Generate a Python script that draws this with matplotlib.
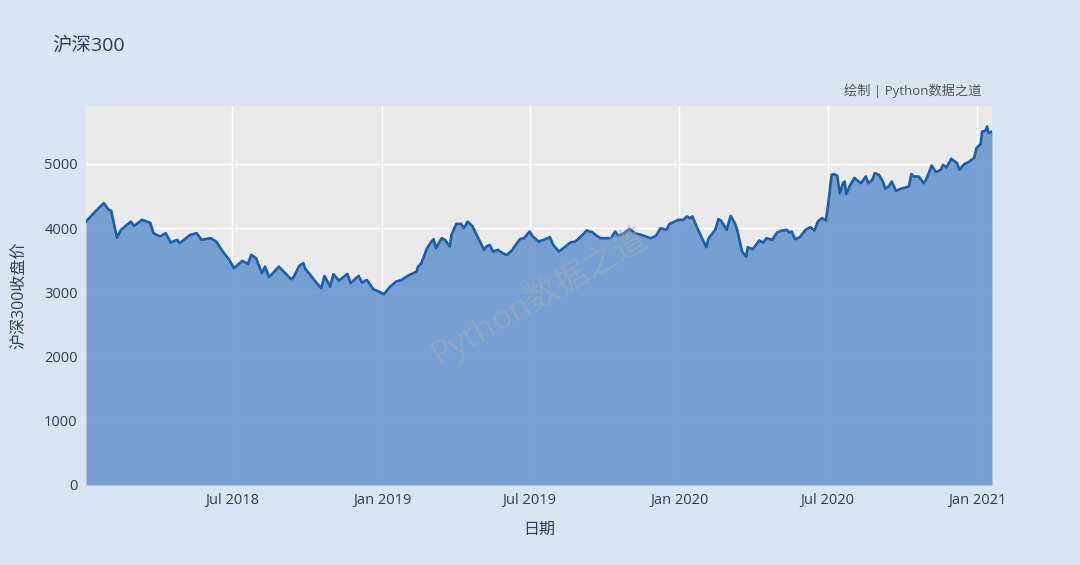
import pandas as pd
import matplotlib.pyplot as plt
import matplotlib.dates as mdates

plt.rcParams['font.family'] = ['Open Sans', 'Noto Sans CJK SC', 'DejaVu Sans']

# closing prices (roughly weekly)
dates = [
    "2018-01-02", "2018-01-12", "2018-01-18", "2018-01-24", "2018-01-30", "2018-02-02",
    "2018-02-09", "2018-02-14", "2018-02-26", "2018-03-02", "2018-03-12", "2018-03-22",
    "2018-03-26", "2018-04-03", "2018-04-10", "2018-04-16", "2018-04-24", "2018-04-27",
    "2018-05-10", "2018-05-18", "2018-05-24", "2018-06-04", "2018-06-11", "2018-06-19",
    "2018-06-27", "2018-07-03", "2018-07-13", "2018-07-20", "2018-07-24", "2018-07-30",
    "2018-08-06", "2018-08-10", "2018-08-15", "2018-08-27", "2018-09-03", "2018-09-11",
    "2018-09-14", "2018-09-21", "2018-09-26", "2018-09-28", "2018-10-11", "2018-10-18",
    "2018-10-22", "2018-10-29", "2018-11-02", "2018-11-09", "2018-11-19", "2018-11-23",
    "2018-12-03", "2018-12-07", "2018-12-13", "2018-12-21", "2018-12-28", "2019-01-03",
    "2019-01-10", "2019-01-18", "2019-01-25", "2019-02-01", "2019-02-12", "2019-02-14",
    "2019-02-18", "2019-02-25", "2019-03-01", "2019-03-05", "2019-03-08", "2019-03-15",
    "2019-03-19", "2019-03-25", "2019-03-27", "2019-04-02", "2019-04-08", "2019-04-11",
    "2019-04-16", "2019-04-22", "2019-04-29", "2019-05-06", "2019-05-09", "2019-05-13",
    "2019-05-17", "2019-05-23", "2019-05-29", "2019-06-03", "2019-06-10", "2019-06-11",
    "2019-06-19", "2019-06-24", "2019-07-01", "2019-07-05", "2019-07-12", "2019-07-18",
    "2019-07-26", "2019-07-30", "2019-08-06", "2019-08-14", "2019-08-20", "2019-08-26",
    "2019-09-02", "2019-09-09", "2019-09-16", "2019-09-20", "2019-09-26", "2019-10-09",
    "2019-10-14", "2019-10-18", "2019-10-25", "2019-11-01", "2019-11-07", "2019-11-15",
    "2019-11-21", "2019-11-27", "2019-12-03", "2019-12-09", "2019-12-16", "2019-12-20",
    "2019-12-31", "2020-01-06", "2020-01-10", "2020-01-14", "2020-01-17", "2020-01-23",
    "2020-02-03", "2020-02-06", "2020-02-14", "2020-02-18", "2020-02-21", "2020-02-28",
    "2020-03-04", "2020-03-09", "2020-03-12", "2020-03-18", "2020-03-23", "2020-03-25",
    "2020-03-31", "2020-04-08", "2020-04-13", "2020-04-17", "2020-04-24", "2020-04-30",
    "2020-05-06", "2020-05-12", "2020-05-15", "2020-05-18", "2020-05-22", "2020-05-28",
    "2020-06-04", "2020-06-10", "2020-06-15", "2020-06-19", "2020-06-24", "2020-06-29",
    "2020-07-02", "2020-07-06", "2020-07-09", "2020-07-13", "2020-07-16", "2020-07-20",
    "2020-07-22", "2020-07-24", "2020-07-28", "2020-08-03", "2020-08-07", "2020-08-11",
    "2020-08-17", "2020-08-20", "2020-08-25", "2020-08-28", "2020-09-02", "2020-09-07",
    "2020-09-10", "2020-09-14", "2020-09-18", "2020-09-23", "2020-09-29", "2020-10-09",
    "2020-10-12", "2020-10-15", "2020-10-21", "2020-10-27", "2020-10-30", "2020-11-06",
    "2020-11-11", "2020-11-17", "2020-11-20", "2020-11-24", "2020-11-30", "2020-12-07",
    "2020-12-10", "2020-12-16", "2020-12-21", "2020-12-28", "2020-12-31", "2021-01-05",
    "2021-01-07", "2021-01-11", "2021-01-13", "2021-01-15", "2021-01-19",
]
closes = [
    4102, 4237, 4315, 4388, 4283, 4268,
    3852, 3972, 4100, 4034, 4128, 4081,
    3920, 3868, 3920, 3775, 3816, 3764,
    3894, 3920, 3816, 3842, 3790, 3634,
    3505, 3375, 3489, 3442, 3583, 3531,
    3297, 3400, 3235, 3400, 3307, 3204,
    3235, 3411, 3453, 3375, 3167, 3064,
    3255, 3089, 3282, 3182, 3287, 3142,
    3255, 3151, 3193, 3048, 3011, 2970,
    3080, 3167, 3193, 3255, 3322, 3400,
    3453, 3687, 3765, 3827, 3687, 3842,
    3816, 3712, 3894, 4065, 4065, 3998,
    4101, 4023, 3842, 3660, 3712, 3738,
    3634, 3660, 3608, 3582, 3660, 3686,
    3827, 3842, 3946, 3868, 3790, 3816,
    3857, 3738, 3634, 3712, 3775, 3790,
    3868, 3961, 3935, 3894, 3842, 3842,
    3946, 3878, 3920, 3988, 3920, 3894,
    3868, 3842, 3878, 3998, 3972, 4065,
    4128, 4128, 4180, 4154, 4180, 3998,
    3702, 3842, 3972, 4138, 4117, 3972,
    4190, 4076, 3972, 3634, 3556, 3702,
    3670, 3806, 3775, 3842, 3816, 3930,
    3961, 3972, 3930, 3946, 3827, 3857,
    3972, 4014, 3961, 4101, 4154, 4117,
    4388, 4829, 4840, 4813, 4543, 4699,
    4724, 4528, 4648, 4782, 4735, 4699,
    4802, 4699, 4751, 4855, 4829, 4724,
    4611, 4648, 4724, 4579, 4611, 4648,
    4840, 4802, 4802, 4699, 4751, 4974,
    4870, 4907, 4984, 4943, 5078, 5011,
    4907, 4995, 5026, 5089, 5245, 5307,
    5503, 5514, 5581, 5477, 5503,
]
y_ticks = [0, 1000, 2000, 3000, 4000, 5000]
x_ticks = ["2018-07-01", "2019-01-01", "2019-07-01", "2020-01-01", "2020-07-01", "2021-01-01"]

df = pd.DataFrame({"date": pd.to_datetime(dates), "close": closes})

bg = "#d9e5f3"
text_col = "#2a3f5f"

fig = plt.figure(figsize=(10.8, 5.65), dpi=100, facecolor=bg)
ax = fig.add_axes([0.0796, 0.1416, 0.8389, 0.6708])
ax.set_facecolor("#eaeaea")

# area + line
ax.fill_between(df["date"], df["close"], 0, color=(105/255, 152/255, 205/255), alpha=0.9,
                linewidth=0, zorder=2)
ax.plot(df["date"], df["close"], color="#1a5fae", lw=1.9, zorder=3)

ax.set_xlim(df["date"].iloc[0], df["date"].iloc[-1])
ax.set_ylim(0, 5900)
ax.set_yticks(y_ticks)
ax.set_xticks(pd.to_datetime(x_ticks))
ax.xaxis.set_major_formatter(mdates.DateFormatter("%b %Y"))
ax.grid(True, color="white", lw=1, zorder=1)
ax.set_axisbelow(True)
for s in ax.spines.values():
    s.set_visible(False)
ax.tick_params(length=0, labelsize=10.5, colors=text_col, pad=6)

ax.set_xlabel("日期", fontsize=11.5, color=text_col, labelpad=10)
ax.set_ylabel("沪深300收盘价", fontsize=11.5, color=text_col, labelpad=12)

fig.text(52 / 1080, 1 - 45 / 565, "沪深300", fontsize=14, color=text_col, va="center", ha="left")
fig.text(982 / 1080, 1 - 91 / 565, "绘制 | Python数据之道", fontsize=9.5, color="#555555",
         va="center", ha="right")

# watermark
ax.text(0.5, 0.5, "Python数据之道", transform=ax.transAxes, fontsize=24, color="#a3adba",
        alpha=0.45, rotation=30, ha="center", va="center", zorder=4)

fig.savefig("out.png", dpi=100, facecolor=bg)
